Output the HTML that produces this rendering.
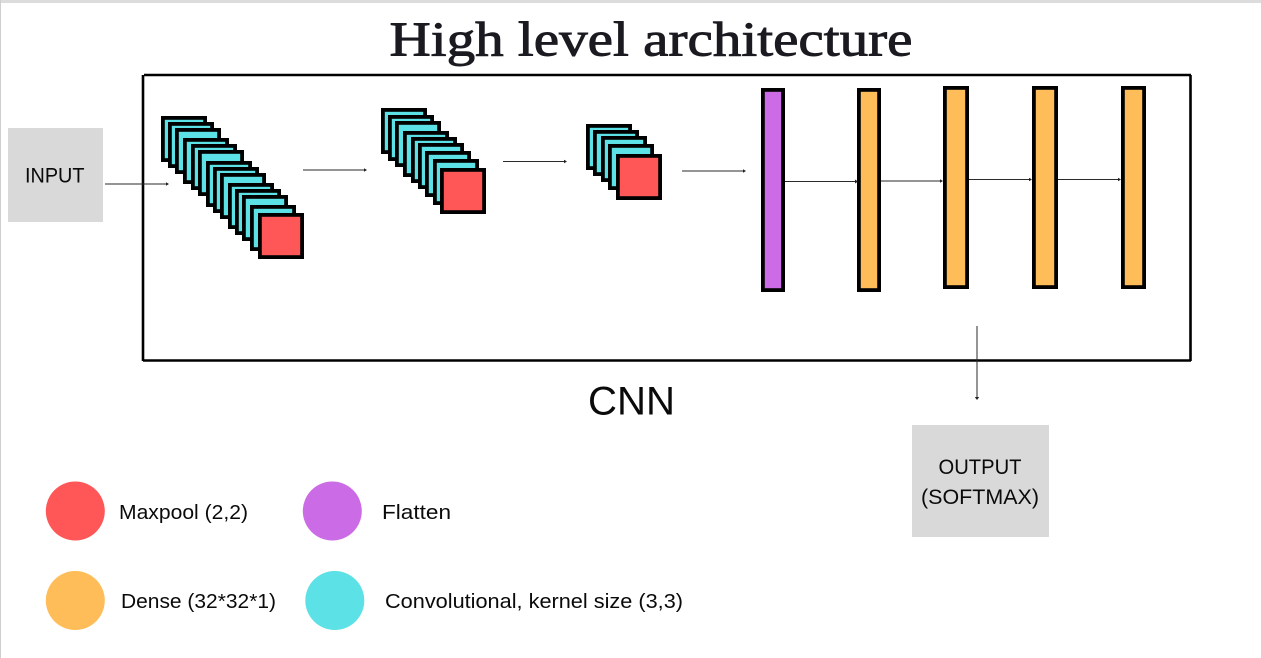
<!DOCTYPE html>
<html><head><meta charset="utf-8">
<style>
html,body{margin:0;padding:0;background:#fff;width:1261px;height:658px;overflow:hidden}
svg{display:block}
.s{font-family:"Liberation Sans",sans-serif;fill:#0a0a0a}
.c{fill:#5ce1e6;stroke:#000;stroke-width:3.8}
.r{fill:#ff5757;stroke:#000;stroke-width:3.8}
.o{fill:#ffbd59;stroke:#000;stroke-width:3.8}
.p{fill:#cb6ce6;stroke:#000;stroke-width:3.8}
.a{stroke:#2a2a2a;stroke-width:1;fill:none}
.h{fill:#222}
</style></head><body>
<svg width="1261" height="658" viewBox="0 0 1261 658" xmlns="http://www.w3.org/2000/svg">
<rect width="1261" height="658" fill="#fff"/>
<rect x="0" y="0" width="1261" height="3" fill="#dcdcdc"/>
<rect x="0" y="0" width="1" height="658" fill="#cfcfcf"/>

<text x="651" y="55.500" text-anchor="middle" font-family="'Liberation Serif',serif" font-size="49" fill="#1a1a20" stroke="#1a1a20" stroke-width="0.9" textLength="523" lengthAdjust="spacingAndGlyphs">High level architecture</text>

<path d="M144 75H1191M143 75V361M1190.500 75V361M143 360.500H1191" stroke="#000" stroke-width="2.6" fill="none"/>

<rect x="8" y="128" width="95" height="94" fill="#d9d9d9"/>
<text class="s" x="25" y="182.500" font-size="21" textLength="59.500" lengthAdjust="spacingAndGlyphs">INPUT</text>

<g class="c">
<rect x="162.900" y="117.900" width="42.200" height="42.200"/>
<rect x="169.900" y="123.900" width="42.200" height="42.200"/>
<rect x="176.900" y="129.900" width="42.200" height="42.200"/>
<rect x="184.900" y="139.900" width="42.200" height="42.200"/>
<rect x="192.900" y="145.900" width="42.200" height="42.200"/>
<rect x="199.900" y="151.900" width="42.200" height="42.200"/>
<rect x="207.900" y="162.900" width="42.200" height="42.200"/>
<rect x="214.900" y="168.900" width="42.200" height="42.200"/>
<rect x="221.900" y="174.900" width="42.200" height="42.200"/>
<rect x="229.900" y="184.900" width="42.200" height="42.200"/>
<rect x="236.900" y="190.900" width="42.200" height="42.200"/>
<rect x="243.900" y="196.900" width="42.200" height="42.200"/>
<rect x="251.900" y="206.900" width="42.200" height="42.200"/>
</g>
<rect class="r" x="259.900" y="214.900" width="42.200" height="42.200"/>

<g class="c">
<rect x="382.900" y="109.900" width="42.200" height="42.200"/>
<rect x="389.900" y="116.900" width="42.200" height="42.200"/>
<rect x="396.900" y="122.900" width="42.200" height="42.200"/>
<rect x="404.900" y="132.900" width="42.200" height="42.200"/>
<rect x="412.900" y="138.900" width="42.200" height="42.200"/>
<rect x="419.900" y="144.900" width="42.200" height="42.200"/>
<rect x="426.900" y="152.900" width="42.200" height="42.200"/>
<rect x="434.900" y="160.900" width="42.200" height="42.200"/>
</g>
<rect class="r" x="441.900" y="169.900" width="42.200" height="42.200"/>

<g class="c">
<rect x="587.900" y="125.900" width="42.200" height="42.200"/>
<rect x="594.900" y="131.900" width="42.200" height="42.200"/>
<rect x="602.900" y="137.900" width="42.200" height="42.200"/>
<rect x="609.900" y="145.900" width="42.200" height="42.200"/>
</g>
<rect class="r" x="617.900" y="155.900" width="42.200" height="42.200"/>

<rect class="p" x="762.900" y="89.900" width="20.200" height="200.200"/>
<rect class="o" x="858.900" y="89.900" width="20.200" height="200.200"/>
<rect class="o" x="944.900" y="87.900" width="22.200" height="199.200"/>
<rect class="o" x="1033.900" y="87.900" width="22.200" height="199.200"/>
<rect class="o" x="1122.900" y="87.900" width="21.200" height="199.200"/>

<path class="a" d="M105 184H167M303 170H365M503 161.500H565M682 171H744M785 181.500H856M881 181H941M969 179.500H1030M1058 179.500H1119M977 326V398"/>
<path class="h" d="M169 184l-3-1.800v3.600zM367 170l-3-1.800v3.600zM567 161.500l-3-1.800v3.600zM746 171l-3-1.800v3.600zM858 181.500l-3-2v4zM943 181l-3-1.800v3.600zM1032 179.500l-3-1.800v3.600zM1121 179.500l-3-1.800v3.600zM977 400l-2.200-3h4.400z"/>

<text class="s" x="588" y="414.500" font-size="40" textLength="87" lengthAdjust="spacingAndGlyphs">CNN</text>

<rect x="912" y="425" width="137" height="112" fill="#d9d9d9"/>
<text class="s" x="938.500" y="474" font-size="21" textLength="83" lengthAdjust="spacingAndGlyphs">OUTPUT</text>
<text class="s" x="921" y="504" font-size="21" textLength="118" lengthAdjust="spacingAndGlyphs">(SOFTMAX)</text>

<circle cx="75.300" cy="511" r="29.500" fill="#ff5757"/>
<circle cx="332.300" cy="511" r="29.500" fill="#cb6ce6"/>
<circle cx="75.300" cy="600.500" r="29.500" fill="#ffbd59"/>
<circle cx="334.800" cy="600.500" r="29.500" fill="#5ce1e6"/>

<text class="s" x="119" y="519" font-size="20.500" textLength="129" lengthAdjust="spacingAndGlyphs">Maxpool (2,2)</text>
<text class="s" x="382" y="519" font-size="20.500" textLength="69" lengthAdjust="spacingAndGlyphs">Flatten</text>
<text class="s" x="121" y="608" font-size="20.500" textLength="155" lengthAdjust="spacingAndGlyphs">Dense (32*32*1)</text>
<text class="s" x="385" y="608" font-size="20.500" textLength="298" lengthAdjust="spacingAndGlyphs">Convolutional, kernel size (3,3)</text>
</svg>
</body></html>
